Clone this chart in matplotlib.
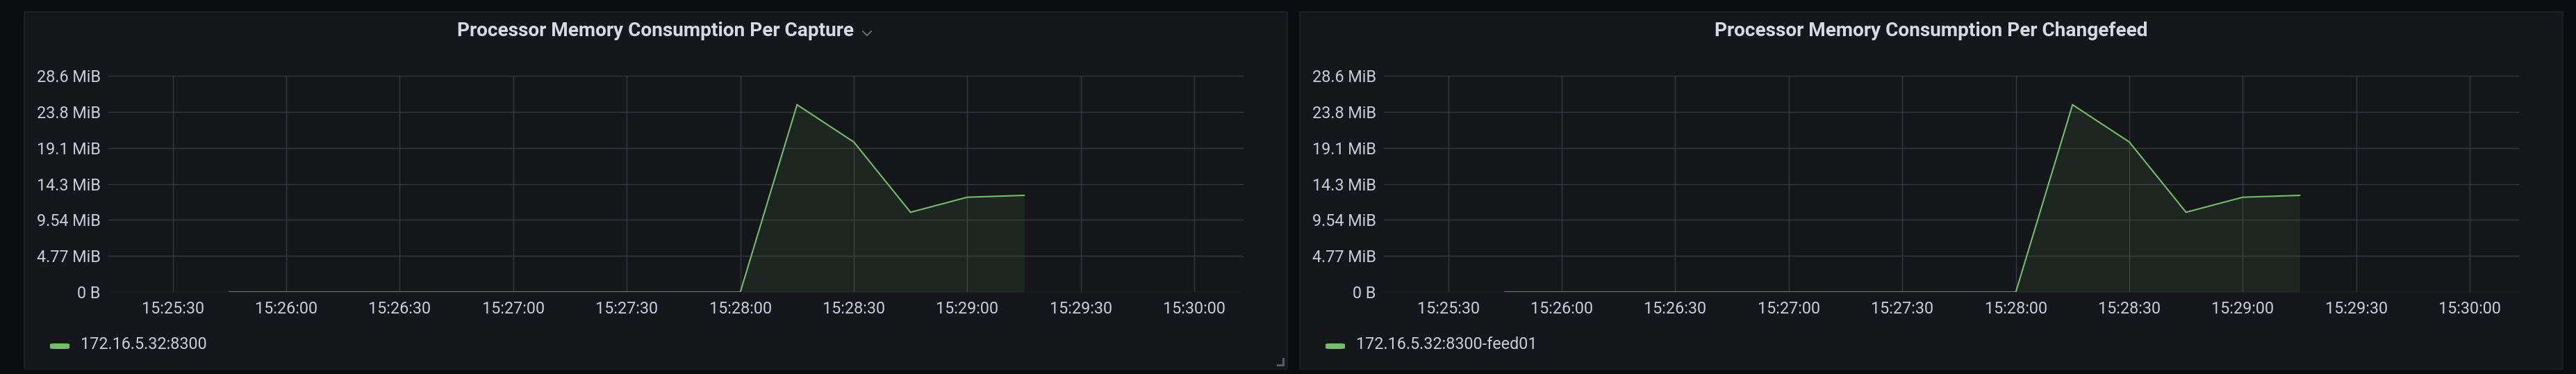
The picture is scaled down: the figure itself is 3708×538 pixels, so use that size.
import matplotlib
matplotlib.use("Agg")
import matplotlib.pyplot as plt
import matplotlib.dates as mdates
import pandas as pd
from matplotlib.patches import FancyBboxPatch
from matplotlib.lines import Line2D

# data (bytes), 15s samples
times = pd.date_range("2024-01-01 15:25:45", "2024-01-01 15:29:15", freq="15s")
capture_mem = [0, 0, 0, 0, 0, 0, 0, 0, 0, 0, 25.96e6, 20.80e6, 11.07e6, 13.15e6, 13.41e6]
feed_mem = [0, 0, 0, 0, 0, 0, 0, 0, 0, 0, 25.96e6, 20.80e6, 11.07e6, 13.15e6, 13.41e6]

titles = ["Processor Memory Consumption Per Capture", "Processor Memory Consumption Per Changefeed"]
legend_labels = ["172.16.5.32:8300", "172.16.5.32:8300-feed01"]
series = [capture_mem, feed_mem]

x_start = pd.Timestamp("2024-01-01 15:25:13")
x_end = pd.Timestamp("2024-01-01 15:30:13")
y_ticks = [0, 5e6, 10e6, 15e6, 20e6, 25e6, 30e6]

W, H = 3708, 538
BG = "#0c0d10"
PANEL = "#16171b"
GRID = "#37383d"
TEXT = "#ccccdc"
GREEN = "#73bf69"

plt.rcParams["font.family"] = ["Roboto", "DejaVu Sans"]

fig = plt.figure(figsize=(W / 100, H / 100), dpi=100, facecolor=BG)


def fx(px):
    return px / W


def fy(py):
    return 1 - py / H


def fmt_bytes(v, pos=None):
    if v == 0:
        return "0 B"
    return "{:.3g} MiB".format(v / 1048576)


for i in range(2):
    off = i * 1836
    # panel box
    fig.patches.append(FancyBboxPatch((fx(35 + off), fy(531)), fx(1818), 514 / H,
                                      boxstyle="round,pad=0,rounding_size=0.001",
                                      transform=fig.transFigure, facecolor=PANEL,
                                      edgecolor="#222328", linewidth=1, zorder=-5))

    fig.text(fx(944 + off), fy(45), titles[i], ha="center", va="center",
             fontsize=20.2, fontweight="bold", color="#d8d9e0")

    ax = fig.add_axes([fx(156 + off), fy(420.3), fx(1790 - 156), (420.3 - 108.7) / H])
    ax.set_facecolor("none")
    ax.plot(times, series[i], color=GREEN, lw=1.5, solid_joinstyle="miter")
    ax.fill_between(times, series[i], 0, color=GREEN, alpha=0.09, lw=0)
    ax.set_xlim(x_start, x_end)
    ax.set_ylim(0, 30e6)
    ax.set_yticks(y_ticks)
    ax.yaxis.set_major_formatter(plt.FuncFormatter(fmt_bytes))
    ax.xaxis.set_major_locator(mdates.SecondLocator(bysecond=[0, 30]))
    ax.xaxis.set_major_formatter(mdates.DateFormatter("%H:%M:%S"))
    ax.grid(True, color=GRID, lw=1.0)
    ax.set_axisbelow(True)
    for s in ax.spines.values():
        s.set_visible(False)
    ax.tick_params(axis="both", length=0, colors=TEXT, labelsize=16.8)
    ax.tick_params(axis="y", pad=8)
    ax.tick_params(axis="x", pad=9)

    # legend
    fig.patches.append(FancyBboxPatch((fx(72 + off), fy(502)), fx(28), 8 / H,
                                      boxstyle="round,pad=0,rounding_size=0.002",
                                      transform=fig.transFigure, facecolor=GREEN,
                                      edgecolor="none"))
    fig.text(fx(116 + off), fy(496), legend_labels[i], ha="left", va="center",
             fontsize=16.8, color=TEXT)

# chevron next to first title
fig.lines.append(Line2D([fx(1242), fx(1248), fx(1254)], [fy(45), fy(51), fy(45)],
                        transform=fig.transFigure, color="#7b7c82", lw=1.2))
# resize handle on first panel
fig.lines.append(Line2D([fx(1839), fx(1846.5), fx(1846.5)], [fy(524.5), fy(524.5), fy(516)],
                        transform=fig.transFigure, color="#5a5b60", lw=2.2,
                        solid_joinstyle="miter"))

fig.savefig("out.png", dpi=100, facecolor=BG)
